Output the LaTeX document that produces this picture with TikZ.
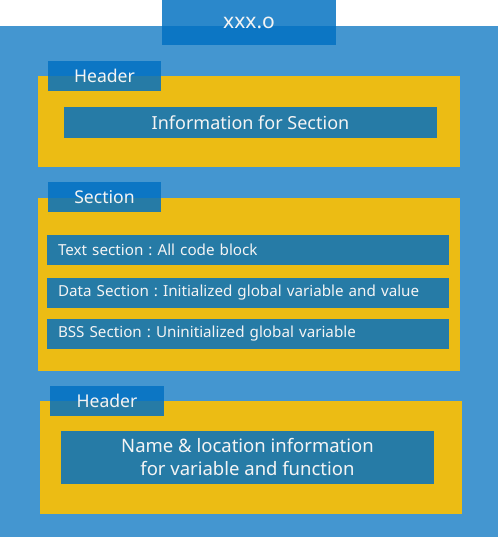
\documentclass[tikz,border=0pt]{standalone}
\usepackage{fontspec}
\setmainfont{Noto Sans}
\frenchspacing
\definecolor{bgblue}{HTML}{4496D0}
\definecolor{tabblue}{HTML}{0C76C4}
\definecolor{tablight}{HTML}{2B88CB}
\definecolor{ybox}{HTML}{ECBC14}
\definecolor{tealbox}{HTML}{267BA6}
\definecolor{txt}{HTML}{F4F4F4}
\begin{document}
\begin{tikzpicture}[x=1pt,y=-1pt,
  plain/.style={rectangle, inner sep=0pt, outer sep=0pt, anchor=north west, draw=none},
  panel/.style={plain, fill=ybox},
  tab/.style={plain, fill=tabblue, text=txt, font=\fontsize{17.6}{20}\selectfont,
     minimum width=113pt, minimum height=30pt},
  infobox/.style={plain, fill=tealbox, text=txt},
  rowbox/.style={plain, fill=tealbox, text=txt, font=\fontsize{15.2}{17}\selectfont,
     minimum width=402pt, minimum height=30pt, text width=380pt, align=left, inner xsep=11pt}
]
\useasboundingbox (0,0) rectangle (498,537);
\fill[white] (0,0) rectangle (498,537);
\node[plain, fill=bgblue, minimum width=498pt, minimum height=511pt] (outer) at (0,26) {};
% title
\node[plain, fill=tabblue, minimum width=174pt, minimum height=45pt, text=txt,
  font=\fontsize{21}{22}\selectfont,
  path picture={\fill[tablight] (path picture bounding box.north west) rectangle ([yshift=-26pt]path picture bounding box.north east);}]
  (title) at (162,0) {\raisebox{-3pt}{xxx.o}};
% header panel 1
\node[panel, minimum width=422pt, minimum height=91pt] (p1) at (38,76) {};
\node[tab, path picture={\fill[tealbox] ([yshift=-15pt]path picture bounding box.north west) rectangle (path picture bounding box.south east);}] (t1) at (48,61) {Header};
\node[infobox, minimum width=373pt, minimum height=31pt, font=\fontsize{18}{20}\selectfont] (i1) at (64,107) {Information for Section};
% section panel
\node[panel, minimum width=422pt, minimum height=173pt] (p2) at (38,198) {};
\node[tab, path picture={\fill[tealbox] ([yshift=-16pt]path picture bounding box.north west) rectangle (path picture bounding box.south east);}] (t2) at (48,182) {Section};
\node[rowbox] (r1) at (47,235) {Text section : All code block};
\node[rowbox] (r2) at (47,278) {Data Section : Initialized global variable and value};
\node[rowbox] (r3) at (47,319) {BSS Section : Uninitialized global variable};
% header panel 3
\node[panel, minimum width=422pt, minimum height=113pt] (p3) at (40,401) {};
\node[tab, minimum width=114pt, path picture={\fill[tealbox] ([yshift=-15pt]path picture bounding box.north west) rectangle (path picture bounding box.south east);}] (t3) at (50,386) {Header};
\node[infobox, minimum width=373pt, minimum height=53pt, align=center, font=\fontsize{18.5}{23}\selectfont] (i3) at (61,431) {Name \& location information\\for variable and function};
\end{tikzpicture}
\end{document}
